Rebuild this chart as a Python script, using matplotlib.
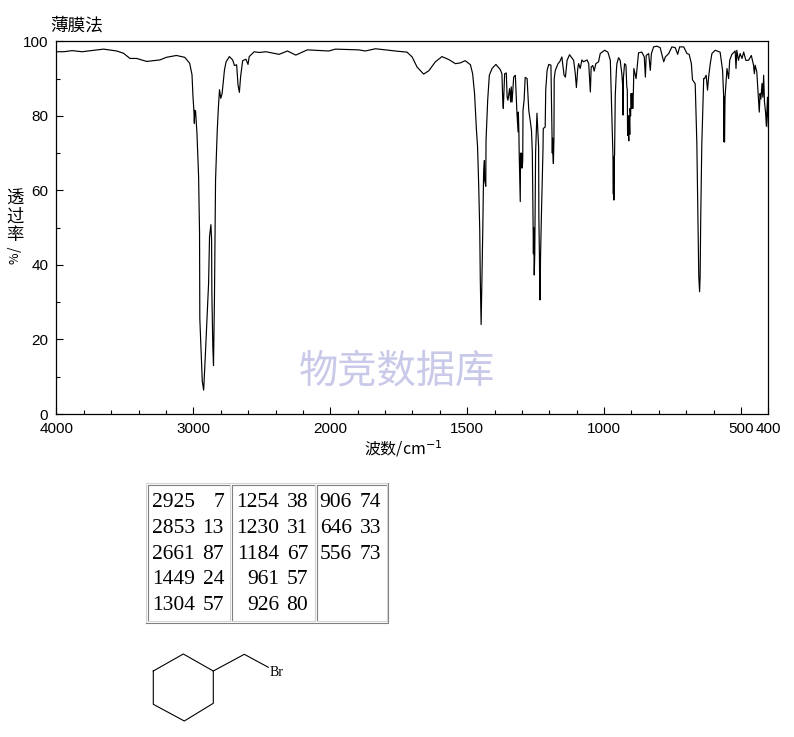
import numpy as np
import matplotlib
matplotlib.use('Agg')
import matplotlib.pyplot as plt

W, H = 794, 737

# spectrum
wavenumber = [4000, 3947, 3886, 3814, 3656, 3560, 3511, 3463, 3414, 3342, 3245, 3197, 3124, 3063, 3027, 3010,
              3003, 2996, 2993, 2990, 2984, 2974, 2962, 2955, 2953, 2942, 2935, 2925, 2913, 2901, 2889, 2882,
              2872, 2867, 2865, 2858, 2853, 2846, 2838, 2826, 2817, 2809, 2800, 2790, 2773, 2761, 2737, 2713,
              2700, 2684, 2674, 2664, 2655, 2640, 2616, 2601, 2592, 2556, 2519, 2470, 2374, 2313, 2252, 2168,
              2011, 1981, 1896, 1872, 1835, 1750, 1720, 1701, 1683, 1659, 1640, 1616, 1592, 1567, 1543, 1525,
              1507, 1488, 1480, 1473, 1466, 1462, 1458, 1454, 1452, 1449, 1446, 1443, 1440, 1437, 1436, 1432,
              1431, 1425, 1419, 1409, 1395, 1379, 1373, 1370, 1368, 1363, 1357, 1354, 1351, 1345, 1341, 1339,
              1336, 1330, 1324, 1318, 1314, 1313, 1311, 1310, 1306, 1305, 1303, 1301, 1299, 1297, 1296, 1292,
              1288, 1281, 1275, 1269, 1265, 1262, 1259, 1258, 1257, 1256, 1255, 1253, 1250, 1245, 1239, 1238,
              1236, 1235, 1234, 1233, 1232, 1229, 1223, 1222, 1215, 1213, 1208, 1202, 1194, 1190, 1189, 1188,
              1187, 1185, 1183, 1182, 1178, 1168, 1162, 1154, 1146, 1141, 1135, 1126, 1111, 1105, 1101, 1096,
              1093, 1087, 1081, 1075, 1062, 1056, 1050, 1047, 1041, 1036, 1030, 1020, 1014, 998, 986, 977,
              971, 967.5, 966, 965, 964, 963, 961.5, 959, 955, 953, 947, 941, 935, 932, 931.5, 931,
              930.5, 929.5, 925, 920, 917, 915, 914, 912, 911, 909.5, 908, 906, 905, 903, 901, 899,
              897, 895, 893, 891, 883, 874, 862, 853, 849, 846, 837, 831, 827, 819, 807, 795,
              782, 776, 764, 752, 740, 731, 724, 709, 697, 689, 681, 677, 667, 661, 657, 654,
              651, 649, 647, 643, 639, 636, 633, 627, 622, 618, 612, 606, 594, 576, 567, 563,
              561.5, 560.5, 560, 558, 551, 545, 541, 533, 521, 518, 515, 509, 503, 496, 490, 482,
              472, 462, 454, 451, 448, 442, 436, 433, 430, 427, 423, 420, 417, 414, 410, 407,
              403, 400]
transmittance = [97.2, 97.2, 97.5, 97.2, 97.9, 97.4, 96.8, 95.4, 95.4, 94.6, 95.0, 95.7, 96.2, 95.7, 94.1, 91.0,
                 85.2, 81.2, 78.0, 81.5, 81.2, 75.4, 63.8, 48.6, 25.6, 15.4, 8.8, 6.4, 15.4, 25.1, 35.0, 47.6,
                 50.8, 46.8, 32.3, 18.0, 13.0, 31.4, 62.9, 75.8, 82.5, 87.0, 84.7, 86.0, 92.3, 94.5, 95.9, 95.0,
                 93.5, 93.7, 88.3, 86.3, 90.5, 94.8, 95.2, 93.8, 95.9, 97.2, 97.0, 97.2, 96.5, 97.4, 96.3, 97.7,
                 97.4, 97.9, 97.7, 97.4, 98.0, 97.3, 97.1, 95.8, 93.1, 91.2, 92.1, 94.5, 95.9, 95.1, 94.0, 94.2,
                 94.8, 93.7, 91.3, 86.0, 76.1, 71.7, 61.8, 49.3, 36.0, 24.0, 36.0, 49.0, 64.5, 68.0, 62.7, 61.1,
                 73.5, 84.2, 90.9, 92.7, 93.8, 92.4, 91.3, 84.2, 82.0, 91.3, 91.5, 85.0, 84.2, 87.3, 83.7, 87.8,
                 83.7, 90.4, 90.9, 80.6, 75.7, 81.0, 75.6, 70.2, 57.0, 70.0, 66.0, 70.0, 66.0, 68.0, 81.5, 84.2,
                 90.3, 90.0, 81.5, 78.4, 76.0, 70.3, 50.2, 43.0, 50.0, 43.0, 37.3, 43.0, 70.3, 80.7, 71.7, 52.5,
                 42.2, 34.0, 30.6, 34.0, 42.0, 52.5, 71.0, 76.6, 77.0, 86.9, 92.2, 93.8, 93.6, 74.8, 70.0, 74.0,
                 70.0, 67.2, 74.0, 90.0, 92.2, 94.0, 94.5, 95.8, 90.9, 90.4, 94.9, 96.4, 94.9, 91.3, 87.6, 92.7,
                 94.0, 92.7, 95.0, 94.5, 95.0, 94.0, 86.4, 93.1, 93.5, 92.0, 94.0, 94.5, 96.7, 97.6, 97.1, 94.9,
                 78.4, 69.4, 59.0, 69.0, 57.4, 69.0, 69.4, 85.5, 92.0, 94.0, 95.6, 94.9, 91.3, 88.0, 81.0, 90.0,
                 80.2, 90.0, 94.0, 93.6, 88.0, 86.9, 74.8, 80.0, 75.0, 73.3, 80.0, 75.0, 82.0, 80.0, 86.0, 82.0,
                 86.0, 82.0, 86.0, 92.7, 90.0, 96.9, 97.1, 95.8, 90.4, 96.2, 96.7, 92.2, 96.7, 98.5, 98.7, 98.3,
                 94.5, 95.8, 96.7, 98.5, 98.3, 96.5, 98.5, 98.5, 96.7, 96.5, 94.0, 89.7, 88.6, 72.6, 53.0, 37.0,
                 32.8, 37.0, 51.6, 72.0, 82.4, 90.0, 90.0, 90.9, 86.9, 90.4, 94.0, 96.7, 97.6, 97.1, 92.2, 85.0,
                 73.0, 85.0, 73.0, 85.0, 92.7, 90.0, 94.9, 96.5, 97.4, 92.7, 97.6, 94.9, 96.7, 95.4, 97.1, 94.9,
                 94.9, 96.2, 93.6, 91.3, 93.6, 91.8, 84.6, 81.0, 86.0, 84.5, 88.7, 85.0, 90.9, 83.7, 81.0, 77.2,
                 85.0, 77.0]

x_major = [4000, 3000, 2000, 1500, 1000, 500, 400]
x_minor = [3800, 3600, 3400, 3200, 2800, 2600, 2400, 2200, 1900, 1800, 1700, 1600,
           1400, 1300, 1200, 1100, 900, 800, 700, 600]
y_major = [0, 20, 40, 60, 80, 100]
y_minor = [10, 30, 50, 70, 90]

# peak table, one list per column pair
peak_wn_1 = [2925, 2853, 2661, 1449, 1304]
peak_t_1 = [7, 13, 87, 24, 57]
peak_wn_2 = [1254, 1230, 1184, 961, 926]
peak_t_2 = [38, 31, 67, 57, 80]
peak_wn_3 = [906, 646, 556]
peak_t_3 = [74, 33, 73]


def forward(w):
    # the spectrum is drawn at half scale above 2000 cm-1
    w = np.asarray(w, dtype=float)
    return np.where(w > 2000, 2000 + (w - 2000) / 2, w)


def inverse(v):
    v = np.asarray(v, dtype=float)
    return np.where(v > 2000, 2000 + (v - 2000) * 2, v)


def frame(x0, x1, y0, y1, light, dark):
    # html style box: one colour on top/left, the other on bottom/right
    page.plot([x0, x0, x1], [y1, y0, y0], color=light, lw=0.8)
    page.plot([x0, x1, x1], [y1, y1, y0], color=dark, lw=0.8)


plt.rcParams['font.family'] = ['Liberation Sans', 'DejaVu Sans']
fig = plt.figure(figsize=(W / 100, H / 100), dpi=100, facecolor='white')

# overlay in pixel coordinates for the text, table and structure
page = fig.add_axes([0, 0, 1, 1], zorder=0)
page.set_xlim(0, W)
page.set_ylim(H, 0)
page.axis('off')

ax = fig.add_axes([56.5 / W, 1 - 414 / H, (768.3 - 56.5) / W, (414 - 41.3) / H], zorder=1)
ax.patch.set_alpha(0)
ax.set_xscale('function', functions=(forward, inverse))
ax.set_xlim(4000, 400)
ax.set_ylim(0, 100)
ax.plot(wavenumber, transmittance, color='black', lw=0.85)

ax.set_xticks(x_major)
ax.set_xticklabels([str(v) for v in x_major])
ax.set_xticks(x_minor, minor=True)
ax.set_yticks(y_major)
ax.set_yticks(y_minor, minor=True)
ax.tick_params(axis='both', which='major', direction='in', length=5, width=0.8, labelsize=11, pad=6)
ax.tick_params(axis='both', which='minor', direction='in', length=3, width=0.8)
for s in ax.spines.values():
    s.set_linewidth(0.9)

cjk = ['Noto Sans CJK SC', 'DejaVu Sans']
page.text(76.5, 26, '薄膜法', family=cjk, fontsize=12.7, ha='center', va='center')
page.text(403, 449, '波数/cm$^{-1}$', family=cjk, fontsize=11.5, ha='center', va='center')
for y, ch in zip([198.5, 217, 235], '透过率'):
    page.text(15, y, ch, family=cjk, fontsize=12.5, ha='center', va='center')
page.text(15, 249, '/', family=cjk, fontsize=10, rotation=90, ha='center', va='center')
page.text(15, 258, '%', family=cjk, fontsize=9, rotation=90, ha='center', va='center')
page.text(397, 371, '物竞数据库', family=cjk, fontsize=28.3, color='#c9c9ea', ha='center', va='center', zorder=0)

# peak table
frame(145.5, 388, 483, 623, '#d4d4d4', '#808080')
for x0, x1 in [(147.5, 229.5), (231.5, 314.5), (316.5, 386.5)]:
    frame(x0, x1, 485, 621, '#808080', '#d4d4d4')

rows = [502.5, 528.5, 554.5, 580, 606]
columns = [(peak_wn_1, peak_t_1, 195, 224), (peak_wn_2, peak_t_2, 279, 308), (peak_wn_3, peak_t_3, 352, 381)]
for wn_col, t_col, x_wn, x_t in columns:
    for y, wn, t in zip(rows, wn_col, t_col):
        page.text(x_wn, y, str(wn), family='Liberation Serif', fontsize=15.5, ha='right', va='center')
        page.text(x_t, y, str(t), family='Liberation Serif', fontsize=15.5, ha='right', va='center')

# structure: bromomethylcyclohexane
ring_x = [153.3, 183.3, 213.3, 213.3, 184.3, 153.3, 153.3]
ring_y = [671, 654, 671, 703.3, 721, 704.3, 671]
page.plot(ring_x, ring_y, color='black', lw=0.8)
page.plot([213.3, 244.3, 268.3], [671, 654.3, 667.3], color='black', lw=0.8)
page.text(270, 672, 'Br', family='Liberation Serif', fontsize=10, ha='left', va='center')

fig.savefig('out.png', dpi=100, facecolor='white')
